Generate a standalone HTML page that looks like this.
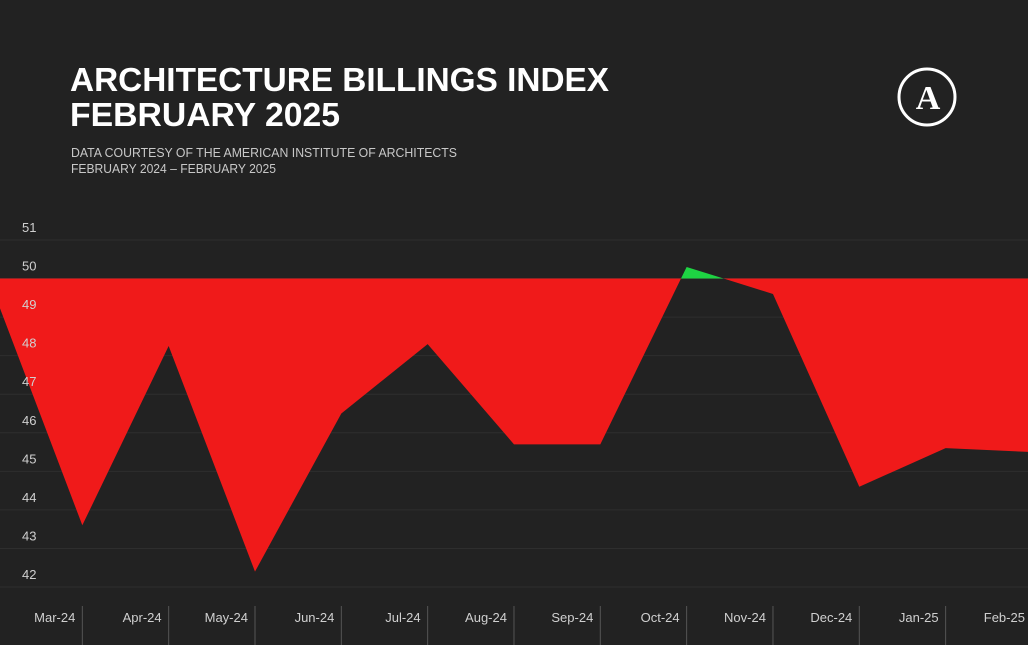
<!DOCTYPE html>
<html><head><meta charset="utf-8"><style>
html,body{margin:0;padding:0;background:#222222;}
svg{display:block;}
</style></head><body>
<svg id="chart" width="1028" height="645" viewBox="0 0 1028 645" xmlns="http://www.w3.org/2000/svg" font-family="Liberation Sans, sans-serif">
<rect width="1028" height="645" fill="#222222"/>
<text x="70" y="91" fill="#ffffff" font-weight="bold" font-size="33" textLength="539" lengthAdjust="spacingAndGlyphs">ARCHITECTURE BILLINGS INDEX</text>
<text x="70" y="126" fill="#ffffff" font-weight="bold" font-size="33" textLength="270" lengthAdjust="spacingAndGlyphs">FEBRUARY 2025</text>
<text x="71" y="157" fill="#c8c8c8" font-size="13" textLength="386" lengthAdjust="spacingAndGlyphs">DATA COURTESY OF THE AMERICAN INSTITUTE OF ARCHITECTS</text>
<text x="71" y="173" fill="#c8c8c8" font-size="13" textLength="205" lengthAdjust="spacingAndGlyphs">FEBRUARY 2024 – FEBRUARY 2025</text>
<g>
<circle cx="927" cy="97" r="28" fill="none" stroke="#fff" stroke-width="3"/>
<text x="928" y="109" text-anchor="middle" fill="#fff" font-family="Liberation Serif, serif" font-weight="bold" font-size="34">A</text>
</g>
<g id="grid"></g>
<g id="areas"></g>
<g id="yaxis"></g>
<g id="xaxis"></g>
</svg>
<script>
const months = ["Feb-24","Mar-24","Apr-24","May-24","Jun-24","Jul-24","Aug-24","Sep-24","Oct-24","Nov-24","Dec-24","Jan-25","Feb-25"];
const values = [49.5,43.6,48.25,42.4,46.5,48.3,45.7,45.7,50.3,49.6,44.6,45.6,45.5];
const yTicks = [42,43,44,45,46,47,48,49,50,51];
const baseline = 50;
const NS="http://www.w3.org/2000/svg";
const x = i => -4 + i*86.33;
const y = v => 587 - (v-42)*38.56;
function mk(tag, attrs, parent){const e=document.createElementNS(NS,tag);for(const k in attrs)e.setAttribute(k,attrs[k]);parent.appendChild(e);return e;}
const grid=document.getElementById('grid'), areas=document.getElementById('areas'), ya=document.getElementById('yaxis'), xa=document.getElementById('xaxis');
yTicks.forEach(t=>{
  const l=mk('line',{x1:0,x2:1028,y1:y(t),y2:y(t),stroke:'#2e2e2e','stroke-width':1},grid);
  
  
  const tx=mk('text',{x:22,y:y(t)-8,fill:'#d0d0d0','font-size':13},ya);
  tx.textContent=t;
  
  
});
const pts=values.map((v,i)=>x(i)+','+y(v)).join(' ');
const by=y(baseline);
const defs=mk('defs',{},areas);
const cb=mk('clipPath',{id:'below'},defs); mk('rect',{x:-10,y:by,width:1050,height:645},cb);
const ca=mk('clipPath',{id:'above'},defs); mk('rect',{x:-10,y:0,width:1050,height:by},ca);
const poly=`${x(0)},${by} ${pts} ${x(values.length-1)},${by}`;
const red=mk('polygon',{points:poly,fill:'#f01a1a','clip-path':'url(#below)'},areas);


const green=mk('polygon',{points:poly,fill:'#1ed443','clip-path':'url(#above)'},areas);


months.forEach((m,i)=>{
  if(i===0) return;
  const xi=x(i);
  const tx=mk('text',{x:xi-7,y:622,fill:'#d0d0d0','font-size':13,'text-anchor':'end'},xa);
  tx.textContent=m;
  
  
  if(i<months.length-1){
    const l=mk('line',{x1:xi,x2:xi,y1:606,y2:645,stroke:'#555','stroke-width':1},xa);
    
    
  }
});
</script>
</body></html>
